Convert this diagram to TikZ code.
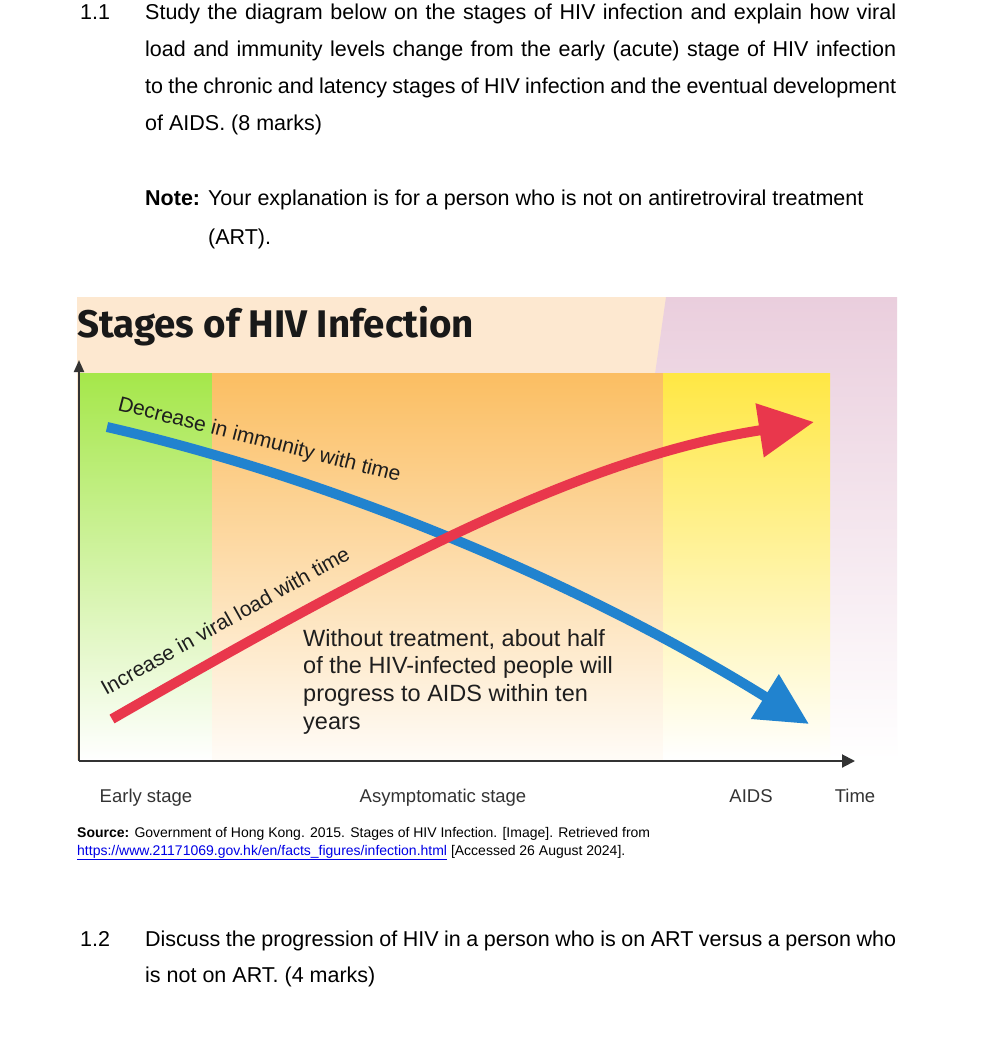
\documentclass[tikz,border=0pt]{standalone}
\usepackage{fontspec}
\setmainfont{Liberation Sans}
\newfontfamily\titlefont{Fira Sans}
\usepackage{xcolor}
\usetikzlibrary{arrows.meta}
\definecolor{peach}{RGB}{253,232,208}
\definecolor{pinkbg}{RGB}{234,206,221}
\definecolor{greenpanel}{RGB}{165,231,74}
\definecolor{orangepanel}{RGB}{251,190,98}
\definecolor{yellowpanel}{RGB}{255,231,68}
\definecolor{viralred}{RGB}{233,55,76}
\definecolor{immblue}{RGB}{33,131,207}
\definecolor{axisgray}{RGB}{51,51,51}
\definecolor{labeltext}{RGB}{30,30,30}
\definecolor{linkblue}{RGB}{0,0,230}

\begin{document}
\begin{tikzpicture}[x=1pt,y=-1pt,
  body/.style={anchor=base west,inner sep=0pt,font=\fontsize{21.5}{25}\selectfont},
  stagelabel/.style={anchor=base,inner sep=0pt,text=axisgray,font=\fontsize{18.5}{20}\selectfont},
  sourcetext/.style={anchor=base west,inner sep=0pt,font=\fontsize{14}{16}\selectfont},
  curvelabel/.style={anchor=base west,inner sep=0pt,text=labeltext,font=\fontsize{21}{21}\selectfont},
  axisline/.style={axisgray,line width=2pt},
  trend/.style={line width=10pt}]
  \useasboundingbox[fill=white] (0,0) rectangle (980,1063);

  % Question 1.1
  \node[body] (q1num) at (80,19) {1.1};
  \node[body] (q1a) at (145,19) {\makebox[751pt][s]{Study the diagram below on the stages of HIV infection and explain how viral}};
  \node[body] (q1b) at (145,56) {\makebox[751pt][s]{load and immunity levels change from the early (acute) stage of HIV infection}};
  \node[body] (q1c) at (145,93) {\makebox[751pt][s]{to the chronic and latency stages of HIV infection and the eventual development}};
  \node[body] (q1d) at (145,130) {of AIDS. (8 marks)};
  \node[body] (note) at (145,205) {\textbf{Note:} Your explanation is for a person who is not on antiretroviral treatment};
  \node[body] (noteb) at (208,244) {(ART).};

  % Background
  \fill[peach] (77,297) rectangle (897,760);
  \shade[top color=pinkbg, middle color=pinkbg!80!white, bottom color=white] (666,297) -- (897,297) -- (897,760) -- (600,760) -- cycle;

  % Stage panels
  \shade[top color=greenpanel, middle color=greenpanel!60!white, bottom color=white] (80,373) rectangle (212,760);
  \shade[top color=orangepanel, middle color=orangepanel!60!white, bottom color=orangepanel!5!white] (212,373) rectangle (663,760);
  \shade[top color=yellowpanel, middle color=yellowpanel!70!white, bottom color=white] (663,373) rectangle (830,760);

  % Title
  \node[anchor=base west, inner sep=0pt, font=\titlefont\bfseries\fontsize{38.5}{40}\selectfont, text=black!90] (title) at (77,337) {Stages of HIV Infection};

  % Axes
  \coordinate (origin) at (79,761);
  \coordinate (ytip) at (79,360);
  \coordinate (xtip) at (855,761);
  \draw[axisline, -{Triangle[width=10pt,length=12pt]}] (origin) -- (ytip);
  \draw[axisline, -{Triangle[width=13pt,length=13pt]}] (origin) -- (xtip);

  % Immunity and viral load
  \coordinate (imm-start) at (107,427);
  \coordinate (imm-end) at (809,724);
  \coordinate (vir-start) at (112,719);
  \coordinate (vir-end) at (814,422);
  \draw[trend, immblue, -{Triangle[width=50pt,length=52pt]}] (imm-start) .. controls (351,483) and (597,592) .. (imm-end);
  \draw[trend, viralred, -{Triangle[width=52pt,length=55pt]}] (vir-start) .. controls (380,565) and (580,458) .. (vir-end);

  % Curve labels
  \node[curvelabel, rotate=-14.3] (immlabel) at (117,410) {Decrease in immunity with time};
  \node[curvelabel, rotate=29.3] (virlabel) at (106,696) {Increase in viral load with time};

  \node[anchor=north west, inner sep=0pt, align=left, font=\fontsize{23.5}{27.7}\selectfont, text=labeltext] (untreated) at (303,629)
    {Without treatment, about half\\of the HIV-infected people will\\progress to AIDS within ten\\years};

  % Stages
  \node[stagelabel] (early) at (146,802) {Early stage};
  \node[stagelabel] (asymp) at (443,802) {Asymptomatic stage};
  \node[stagelabel] (aids) at (751,802) {AIDS};
  \node[stagelabel] (time) at (855,802) {Time};

  % Source
  \node[sourcetext] (src1) at (77,837) {\textbf{Source:} Government of Hong Kong. 2015. Stages of HIV Infection. [Image]. Retrieved from};
  \node[sourcetext] (src2) at (77,855) {\textcolor{linkblue}{\underline{https://www.21171069.gov.hk/en/facts\_figures/infection.html}} [Accessed 26 August 2024].};

  % Question 1.2
  \node[body] (q2num) at (80,946) {1.2};
  \node[body] (q2a) at (145,946) {\makebox[751pt][s]{Discuss the progression of HIV in a person who is on ART versus a person who}};
  \node[body] (q2b) at (145,982) {is not on ART. (4 marks)};
\end{tikzpicture}
\end{document}
